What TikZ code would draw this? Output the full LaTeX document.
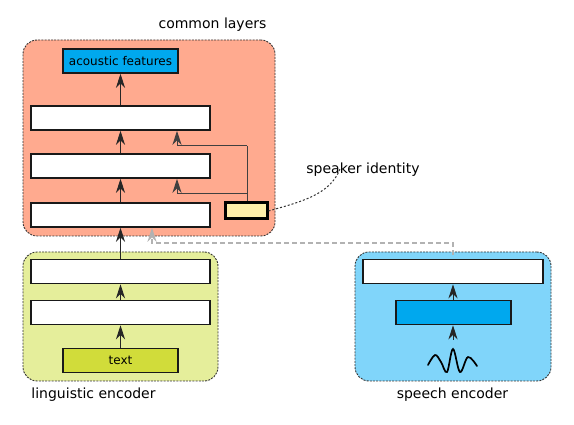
\documentclass[tikz,border=0pt]{standalone}
\usepackage{fontspec}
\setmainfont{DejaVu Sans}
\usetikzlibrary{arrows.meta}
\definecolor{salmon}{HTML}{FFAA8F}
\definecolor{lingfill}{HTML}{E5EE9B}
\definecolor{textfill}{HTML}{D1DC3A}
\definecolor{speechfill}{HTML}{80D5FA}
\definecolor{bluebox}{HTML}{00A8EE}
\definecolor{spkfill}{HTML}{FFEEAA}
\tikzset{
  group/.style={draw=black!80, dash pattern=on 2pt off 1.2pt, line width=0.9pt, rounded corners=14pt, inner sep=0pt},
  layer/.style={draw=black!90, line width=1.5pt, fill=white, inner sep=0pt, minimum width=179pt, minimum height=24pt},
  small/.style={draw=black!90, line width=1.5pt, inner sep=0pt, minimum width=115pt, minimum height=24pt, font=\fontsize{12}{14}\selectfont},
  lbl/.style={font=\fontsize{14}{16}\selectfont, inner sep=0pt},
  arr/.style={draw=black!85, line width=1pt, -{Stealth[length=14pt,width=9pt,inset=4.5pt]}},
  grayarr/.style={draw=black!30, line width=1.4pt, dash pattern=on 5pt off 3pt, -{Stealth[length=14pt,width=9pt,inset=4.5pt]}}
}
\begin{document}
\begin{tikzpicture}[x=1pt,y=-1pt]
\useasboundingbox (0,0) rectangle (574,425);
% containers
\node[group, fill=salmon, minimum width=252pt, minimum height=196pt] (common) at (149,138) {};
\node[group, fill=lingfill, minimum width=195pt, minimum height=129pt] (ling) at (120.5,316.5) {};
\node[group, fill=speechfill, minimum width=196pt, minimum height=129pt] (speech) at (453,316.5) {};
% labels
\node[lbl] (lcommon) at (212.5,25) {common layers};
\node[lbl] (lling) at (93.5,395) {linguistic encoder};
\node[lbl] (lspeech) at (452.5,395) {speech encoder};
\node[lbl] (lspk) at (363,170) {speaker identity};
% common layers
\node[small, fill=bluebox] (ac) at (120.5,61) {acoustic features};
\node[layer] (l3) at (120.5,118) {};
\node[layer] (l2) at (120.5,166) {};
\node[layer] (l1) at (120.5,215) {};
\node[draw=black, line width=3pt, fill=spkfill, inner sep=0pt, minimum width=42pt, minimum height=16pt] (spk) at (246,211) {};
% linguistic encoder
\node[layer] (lb) at (120.5,271.5) {};
\node[layer] (la) at (120.5,312.5) {};
\node[small, fill=textfill] (txt) at (120.5,360.5) {text};
% speech encoder
\node[layer, minimum width=180pt] (sb) at (453,271.5) {};
\node[small, fill=bluebox] (sa) at (453.5,312.5) {};
\coordinate (wavetop) at (453,340);
% wave
\draw[line width=1.7pt, line cap=round] plot[smooth, tension=0.6] coordinates {(428,365) (435,355) (441,362) (447,372) (453,349) (460,372) (468,357) (477,366)};
% main arrows
\draw[arr] (l3.north) -- (ac.south);
\draw[arr] (l2.north) -- (l3.south);
\draw[arr] (l1.north) -- (l2.south);
\draw[arr] (lb.north) -- (l1.south);
\draw[arr] (la.north) -- (lb.south);
\draw[arr] (txt.north) -- (la.south);
\draw[arr] (sa.north -| sb.south) -- (sb.south);
\draw[arr] (wavetop) -- (wavetop |- sa.south);
% speaker identity connections
\coordinate (sj) at (247,146);
\coordinate (sk) at (247,194);
\draw[draw=black!75, line width=1pt] (spk.north -| sj) -- (sj);
\draw[arr, draw=black!75] (sj) -| ([xshift=56.5pt]l3.south);
\draw[arr, draw=black!75] (sk) -| ([xshift=56.5pt]l2.south);
% gray dashed connection
\coordinate (g1) at (453,243);
\draw[grayarr] ([yshift=-3pt]speech.north) -- (g1) -| ([xshift=31.5pt]l1.south);
% dotted label connector
\draw[dash pattern=on 2pt off 2pt, line width=1pt, draw=black!80] (spk.east) .. controls (300,202) and (330,195) .. ([xshift=-23pt,yshift=8pt]lspk.south);
\end{tikzpicture}
\end{document}
